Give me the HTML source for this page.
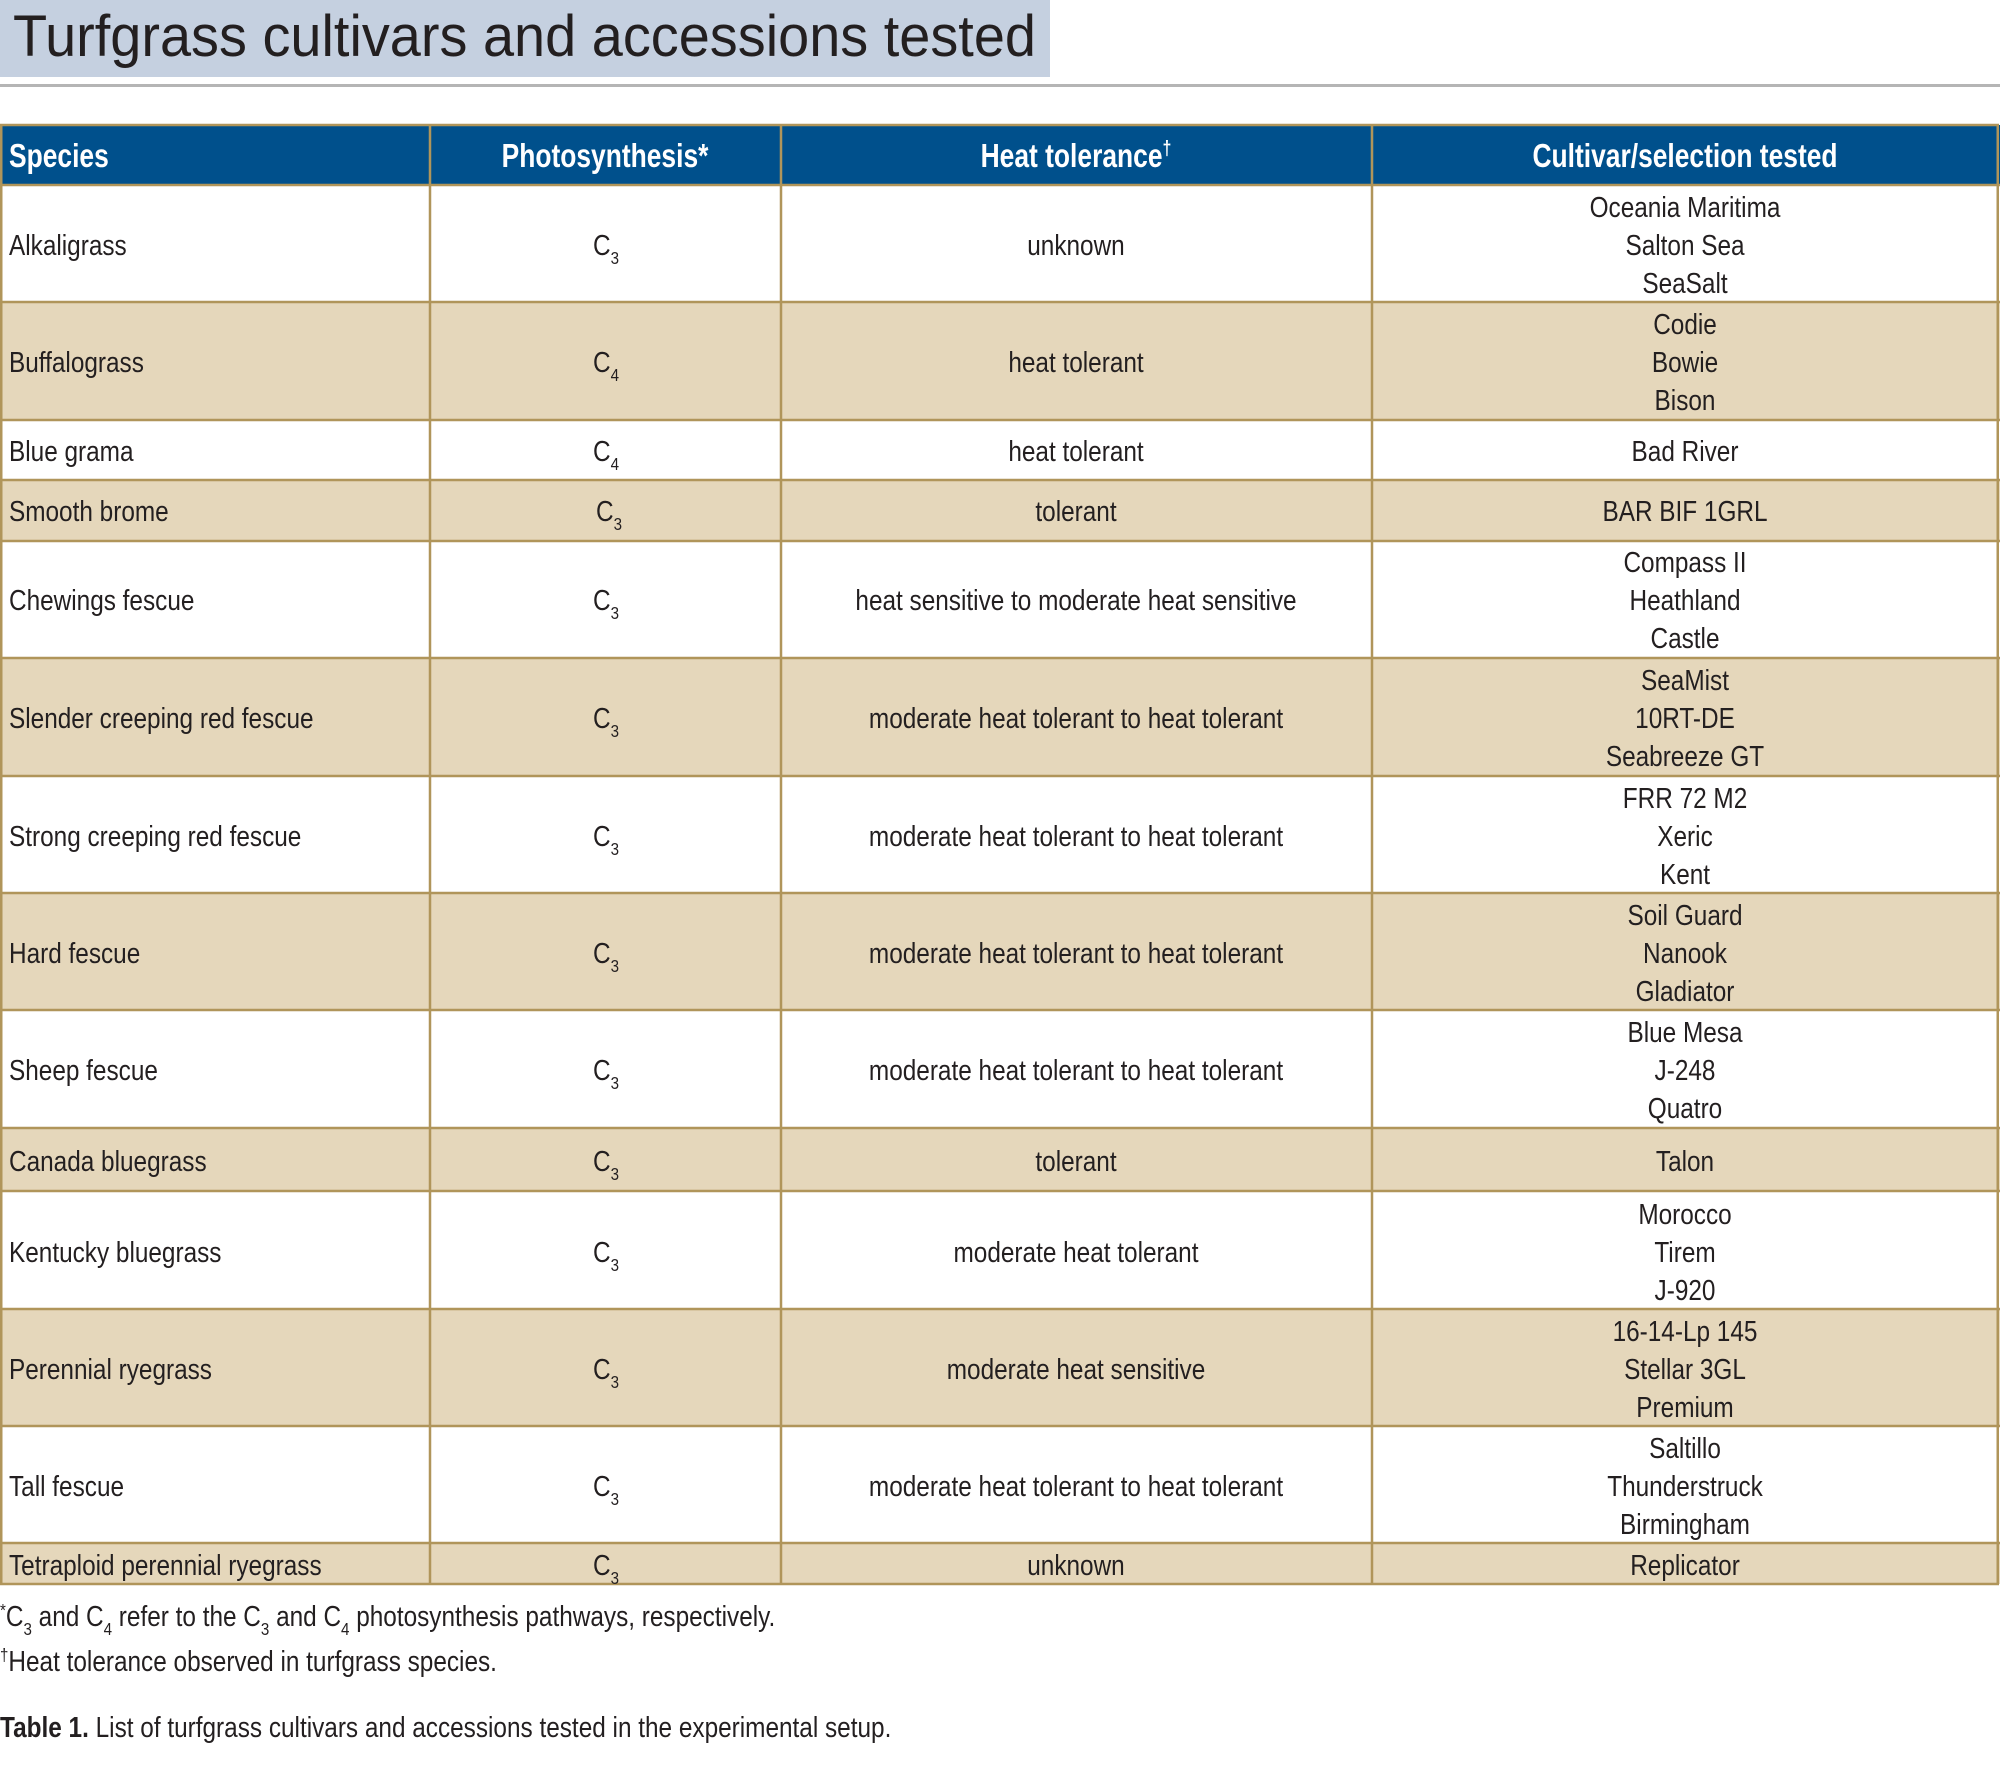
<!DOCTYPE html>
<html><head><meta charset="utf-8"><style>
html,body{margin:0;padding:0;background:#fff;}
svg{display:block;}
text{font-family:"Liberation Sans",Arial,sans-serif;fill:#231f20;}
.b{font-size:29px;}
.h{font-size:33px;font-weight:bold;fill:#fff;}
</style></head><body>
<svg width="2000" height="1773" viewBox="0 0 2000 1773" xmlns="http://www.w3.org/2000/svg">
<rect x="0" y="0" width="1050" height="77" fill="#c5d0e0"/>
<text x="13" y="56" font-size="58" textLength="1023" lengthAdjust="spacingAndGlyphs">Turfgrass cultivars and accessions tested</text>
<rect x="0" y="84" width="2000" height="3" fill="#b5b5b5"/>

<!-- header -->
<rect x="0" y="125" width="2000" height="60" fill="#00508c"/>
<!-- rows -->
<g fill="#e5d7bb">
<rect x="0" y="302" width="2000" height="118"/>
<rect x="0" y="480" width="2000" height="61"/>
<rect x="0" y="658" width="2000" height="118"/>
<rect x="0" y="893" width="2000" height="117"/>
<rect x="0" y="1128" width="2000" height="63"/>
<rect x="0" y="1309" width="2000" height="117"/>
<rect x="0" y="1543" width="2000" height="41"/>
</g>
<g stroke="#b0955a" stroke-width="2.5" fill="none">
<rect x="1.25" y="125" width="1996.5" height="1459"/>
<line x1="430" y1="125" x2="430" y2="1584"/>
<line x1="781" y1="125" x2="781" y2="1584"/>
<line x1="1372" y1="125" x2="1372" y2="1584"/>
<line x1="0" y1="185" x2="2000" y2="185"/>
<line x1="0" y1="302" x2="2000" y2="302"/>
<line x1="0" y1="420" x2="2000" y2="420"/>
<line x1="0" y1="480" x2="2000" y2="480"/>
<line x1="0" y1="541" x2="2000" y2="541"/>
<line x1="0" y1="658" x2="2000" y2="658"/>
<line x1="0" y1="776" x2="2000" y2="776"/>
<line x1="0" y1="893" x2="2000" y2="893"/>
<line x1="0" y1="1010" x2="2000" y2="1010"/>
<line x1="0" y1="1128" x2="2000" y2="1128"/>
<line x1="0" y1="1191" x2="2000" y2="1191"/>
<line x1="0" y1="1309" x2="2000" y2="1309"/>
<line x1="0" y1="1426" x2="2000" y2="1426"/>
<line x1="0" y1="1543" x2="2000" y2="1543"/>
</g>

<g class="h">
<text class="h" transform="translate(9,167) scale(0.8,1)">Species</text>
<text class="h" text-anchor="middle" transform="translate(605,167) scale(0.8,1)">Photosynthesis*</text>
<text class="h" text-anchor="middle" transform="translate(1076,167) scale(0.8,1)">Heat tolerance<tspan font-size="20" dy="-12">†</tspan></text>
<text class="h" text-anchor="middle" transform="translate(1685,167) scale(0.8,1)">Cultivar/selection tested</text>
</g>

<g class="b">
<!-- species column -->
<text class="b" transform="translate(9,255) scale(0.84,1)">Alkaligrass</text>
<text class="b" transform="translate(9,372) scale(0.84,1)">Buffalograss</text>
<text class="b" transform="translate(9,461) scale(0.84,1)">Blue grama</text>
<text class="b" transform="translate(9,521) scale(0.84,1)">Smooth brome</text>
<text class="b" transform="translate(9,610) scale(0.84,1)">Chewings fescue</text>
<text class="b" transform="translate(9,728) scale(0.84,1)">Slender creeping red fescue</text>
<text class="b" transform="translate(9,846) scale(0.84,1)">Strong creeping red fescue</text>
<text class="b" transform="translate(9,963) scale(0.84,1)">Hard fescue</text>
<text class="b" transform="translate(9,1080) scale(0.84,1)">Sheep fescue</text>
<text class="b" transform="translate(9,1171) scale(0.84,1)">Canada bluegrass</text>
<text class="b" transform="translate(9,1262) scale(0.84,1)">Kentucky bluegrass</text>
<text class="b" transform="translate(9,1379) scale(0.84,1)">Perennial ryegrass</text>
<text class="b" transform="translate(9,1496) scale(0.84,1)">Tall fescue</text>
<text class="b" transform="translate(9,1575) scale(0.84,1)">Tetraploid perennial ryegrass</text>

<!-- photosynthesis -->
<text class="b" text-anchor="middle" transform="translate(606,255) scale(0.84,1)">C<tspan font-size="18" dy="9">3</tspan></text>
<text class="b" text-anchor="middle" transform="translate(606,372) scale(0.84,1)">C<tspan font-size="18" dy="9">4</tspan></text>
<text class="b" text-anchor="middle" transform="translate(606,461) scale(0.84,1)">C<tspan font-size="18" dy="9">4</tspan></text>
<text class="b" text-anchor="middle" transform="translate(609,521) scale(0.84,1)">C<tspan font-size="18" dy="9">3</tspan></text>
<text class="b" text-anchor="middle" transform="translate(606,610) scale(0.84,1)">C<tspan font-size="18" dy="9">3</tspan></text>
<text class="b" text-anchor="middle" transform="translate(606,728) scale(0.84,1)">C<tspan font-size="18" dy="9">3</tspan></text>
<text class="b" text-anchor="middle" transform="translate(606,846) scale(0.84,1)">C<tspan font-size="18" dy="9">3</tspan></text>
<text class="b" text-anchor="middle" transform="translate(606,963) scale(0.84,1)">C<tspan font-size="18" dy="9">3</tspan></text>
<text class="b" text-anchor="middle" transform="translate(606,1080) scale(0.84,1)">C<tspan font-size="18" dy="9">3</tspan></text>
<text class="b" text-anchor="middle" transform="translate(606,1171) scale(0.84,1)">C<tspan font-size="18" dy="9">3</tspan></text>
<text class="b" text-anchor="middle" transform="translate(606,1262) scale(0.84,1)">C<tspan font-size="18" dy="9">3</tspan></text>
<text class="b" text-anchor="middle" transform="translate(606,1379) scale(0.84,1)">C<tspan font-size="18" dy="9">3</tspan></text>
<text class="b" text-anchor="middle" transform="translate(606,1496) scale(0.84,1)">C<tspan font-size="18" dy="9">3</tspan></text>
<text class="b" text-anchor="middle" transform="translate(606,1575) scale(0.84,1)">C<tspan font-size="18" dy="9">3</tspan></text>

<!-- heat tolerance -->
<text class="b" text-anchor="middle" transform="translate(1076,255) scale(0.84,1)">unknown</text>
<text class="b" text-anchor="middle" transform="translate(1076,372) scale(0.84,1)">heat tolerant</text>
<text class="b" text-anchor="middle" transform="translate(1076,461) scale(0.84,1)">heat tolerant</text>
<text class="b" text-anchor="middle" transform="translate(1076,521) scale(0.84,1)">tolerant</text>
<text class="b" text-anchor="middle" transform="translate(1076,610) scale(0.84,1)">heat sensitive to moderate heat sensitive</text>
<text class="b" text-anchor="middle" transform="translate(1076,728) scale(0.84,1)">moderate heat tolerant to heat tolerant</text>
<text class="b" text-anchor="middle" transform="translate(1076,846) scale(0.84,1)">moderate heat tolerant to heat tolerant</text>
<text class="b" text-anchor="middle" transform="translate(1076,963) scale(0.84,1)">moderate heat tolerant to heat tolerant</text>
<text class="b" text-anchor="middle" transform="translate(1076,1080) scale(0.84,1)">moderate heat tolerant to heat tolerant</text>
<text class="b" text-anchor="middle" transform="translate(1076,1171) scale(0.84,1)">tolerant</text>
<text class="b" text-anchor="middle" transform="translate(1076,1262) scale(0.84,1)">moderate heat tolerant</text>
<text class="b" text-anchor="middle" transform="translate(1076,1379) scale(0.84,1)">moderate heat sensitive</text>
<text class="b" text-anchor="middle" transform="translate(1076,1496) scale(0.84,1)">moderate heat tolerant to heat tolerant</text>
<text class="b" text-anchor="middle" transform="translate(1076,1575) scale(0.84,1)">unknown</text>

<!-- cultivars -->
<g text-anchor="middle">
<text class="b" transform="translate(1685,217) scale(0.84,1)">Oceania Maritima</text>
<text class="b" transform="translate(1685,255) scale(0.84,1)">Salton Sea</text>
<text class="b" transform="translate(1685,293) scale(0.84,1)">SeaSalt</text>
<text class="b" transform="translate(1685,334) scale(0.84,1)">Codie</text>
<text class="b" transform="translate(1685,372) scale(0.84,1)">Bowie</text>
<text class="b" transform="translate(1685,410) scale(0.84,1)">Bison</text>
<text class="b" transform="translate(1685,461) scale(0.84,1)">Bad River</text>
<text class="b" transform="translate(1685,521) scale(0.84,1)">BAR BIF 1GRL</text>
<text class="b" transform="translate(1685,572) scale(0.84,1)">Compass II</text>
<text class="b" transform="translate(1685,610) scale(0.84,1)">Heathland</text>
<text class="b" transform="translate(1685,648) scale(0.84,1)">Castle</text>
<text class="b" transform="translate(1685,690) scale(0.84,1)">SeaMist</text>
<text class="b" transform="translate(1685,728) scale(0.84,1)">10RT-DE</text>
<text class="b" transform="translate(1685,766) scale(0.84,1)">Seabreeze GT</text>
<text class="b" transform="translate(1685,808) scale(0.84,1)">FRR 72 M2</text>
<text class="b" transform="translate(1685,846) scale(0.84,1)">Xeric</text>
<text class="b" transform="translate(1685,884) scale(0.84,1)">Kent</text>
<text class="b" transform="translate(1685,925) scale(0.84,1)">Soil Guard</text>
<text class="b" transform="translate(1685,963) scale(0.84,1)">Nanook</text>
<text class="b" transform="translate(1685,1001) scale(0.84,1)">Gladiator</text>
<text class="b" transform="translate(1685,1042) scale(0.84,1)">Blue Mesa</text>
<text class="b" transform="translate(1685,1080) scale(0.84,1)">J-248</text>
<text class="b" transform="translate(1685,1118) scale(0.84,1)">Quatro</text>
<text class="b" transform="translate(1685,1171) scale(0.84,1)">Talon</text>
<text class="b" transform="translate(1685,1224) scale(0.84,1)">Morocco</text>
<text class="b" transform="translate(1685,1262) scale(0.84,1)">Tirem</text>
<text class="b" transform="translate(1685,1300) scale(0.84,1)">J-920</text>
<text class="b" transform="translate(1685,1341) scale(0.84,1)">16-14-Lp 145</text>
<text class="b" transform="translate(1685,1379) scale(0.84,1)">Stellar 3GL</text>
<text class="b" transform="translate(1685,1417) scale(0.84,1)">Premium</text>
<text class="b" transform="translate(1685,1458) scale(0.84,1)">Saltillo</text>
<text class="b" transform="translate(1685,1496) scale(0.84,1)">Thunderstruck</text>
<text class="b" transform="translate(1685,1534) scale(0.84,1)">Birmingham</text>
<text class="b" transform="translate(1685,1575) scale(0.84,1)">Replicator</text>
</g>

<!-- footnotes -->
<text class="b" transform="translate(0,1626) scale(0.84,1)"><tspan font-size="18" dy="-10">*</tspan><tspan dy="10">C</tspan><tspan font-size="18" dy="9">3</tspan><tspan dy="-9"> and C</tspan><tspan font-size="18" dy="9">4</tspan><tspan dy="-9"> refer to the C</tspan><tspan font-size="18" dy="9">3</tspan><tspan dy="-9"> and C</tspan><tspan font-size="18" dy="9">4</tspan><tspan dy="-9"> photosynthesis pathways, respectively.</tspan></text>
<text class="b" transform="translate(0,1671) scale(0.84,1)"><tspan font-size="18" dy="-10">†</tspan><tspan dy="10">Heat tolerance observed in turfgrass species.</tspan></text>
<text class="b" transform="translate(0,1737) scale(0.84,1)"><tspan font-weight="bold">Table 1.</tspan> List of turfgrass cultivars and accessions tested in the experimental setup.</text>
</g>
</svg>
</body></html>
